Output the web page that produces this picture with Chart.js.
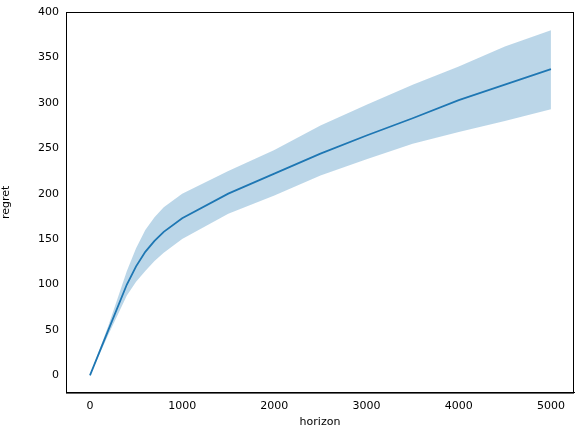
<!DOCTYPE html>
<html>
<head>
<script src="https://cdn.jsdelivr.net/npm/chart.js@4"></script>
<style>body{margin:0;background:#fff}</style>
</head>
<body>
<div style="width:579px;height:429px"><canvas id="c"></canvas></div>
<script>
var horizon = [0, 200, 400, 500, 600, 700, 800, 1000, 1500, 2000, 2500, 3000, 3500, 4000, 4500, 5000];
var regretMean = [0, 50, 100, 120, 136, 148, 158, 173, 200, 222, 244, 264, 283, 303, 320, 337];
var regretUpper = [0, 55, 115, 140, 160, 174, 185, 200, 225, 248, 275, 298, 320, 340, 362, 380];
var regretLower = [0, 45, 88, 103, 115, 126, 135, 150, 178, 198, 220, 238, 255, 268, 280, 293];

function pts(ys) { return horizon.map(function (x, i) { return { x: x, y: ys[i] }; }); }

var frame = {
  id: 'frame',
  afterDraw: function (chart) {
    var a = chart.chartArea, ctx = chart.ctx;
    ctx.save();
    ctx.strokeStyle = '#000';
    ctx.lineWidth = 1;
    ctx.strokeRect(a.left + 0.5, a.top + 0.5, a.right - a.left - 1, a.bottom - a.top);
    ctx.restore();
  }
};

var font = { family: 'DejaVu Sans', size: 11 };
new Chart(document.getElementById('c'), {
  type: 'line',
  data: {
    datasets: [
      { data: pts(regretUpper), borderWidth: 0, pointRadius: 0, fill: '+1', backgroundColor: 'rgba(31,119,180,0.3)' },
      { data: pts(regretLower), borderWidth: 0, pointRadius: 0, fill: false },
      { data: pts(regretMean), borderColor: '#1f77b4', borderWidth: 1.8, pointRadius: 0, fill: false }
    ]
  },
  plugins: [frame],
  options: {
    animation: false,
    responsive: true,
    maintainAspectRatio: false,
    layout: { padding: { top: 12, right: 5 } },
    plugins: { legend: { display: false }, tooltip: { enabled: false } },
    scales: {
      x: {
        type: 'linear', min: -260, max: 5250,
        grid: { display: false, drawTicks: true, tickLength: 4 },
        border: { color: '#000' },
        ticks: { stepSize: 1000, color: '#000', font: font, autoSkip: false,
          callback: function (v) { return v % 1000 === 0 ? v : ''; } },
        afterBuildTicks: function (s) { s.ticks = [0, 1000, 2000, 3000, 4000, 5000].map(function (v) { return { value: v }; }); },
        title: { display: true, text: 'horizon', color: '#000', font: font, padding: 0 }
      },
      y: {
        min: -19, max: 400,
        grid: { display: false, tickLength: 4 },
        border: { color: '#000' },
        ticks: { color: '#000', font: font },
        afterBuildTicks: function (s) { s.ticks = [0, 50, 100, 150, 200, 250, 300, 350, 400].map(function (v) { return { value: v }; }); },
        afterFit: function (s) { s.width = 66; },
        title: { display: true, text: 'regret', color: '#000', font: font, padding: 0 }
      }
    }
  }
});
</script>
</body>
</html>
